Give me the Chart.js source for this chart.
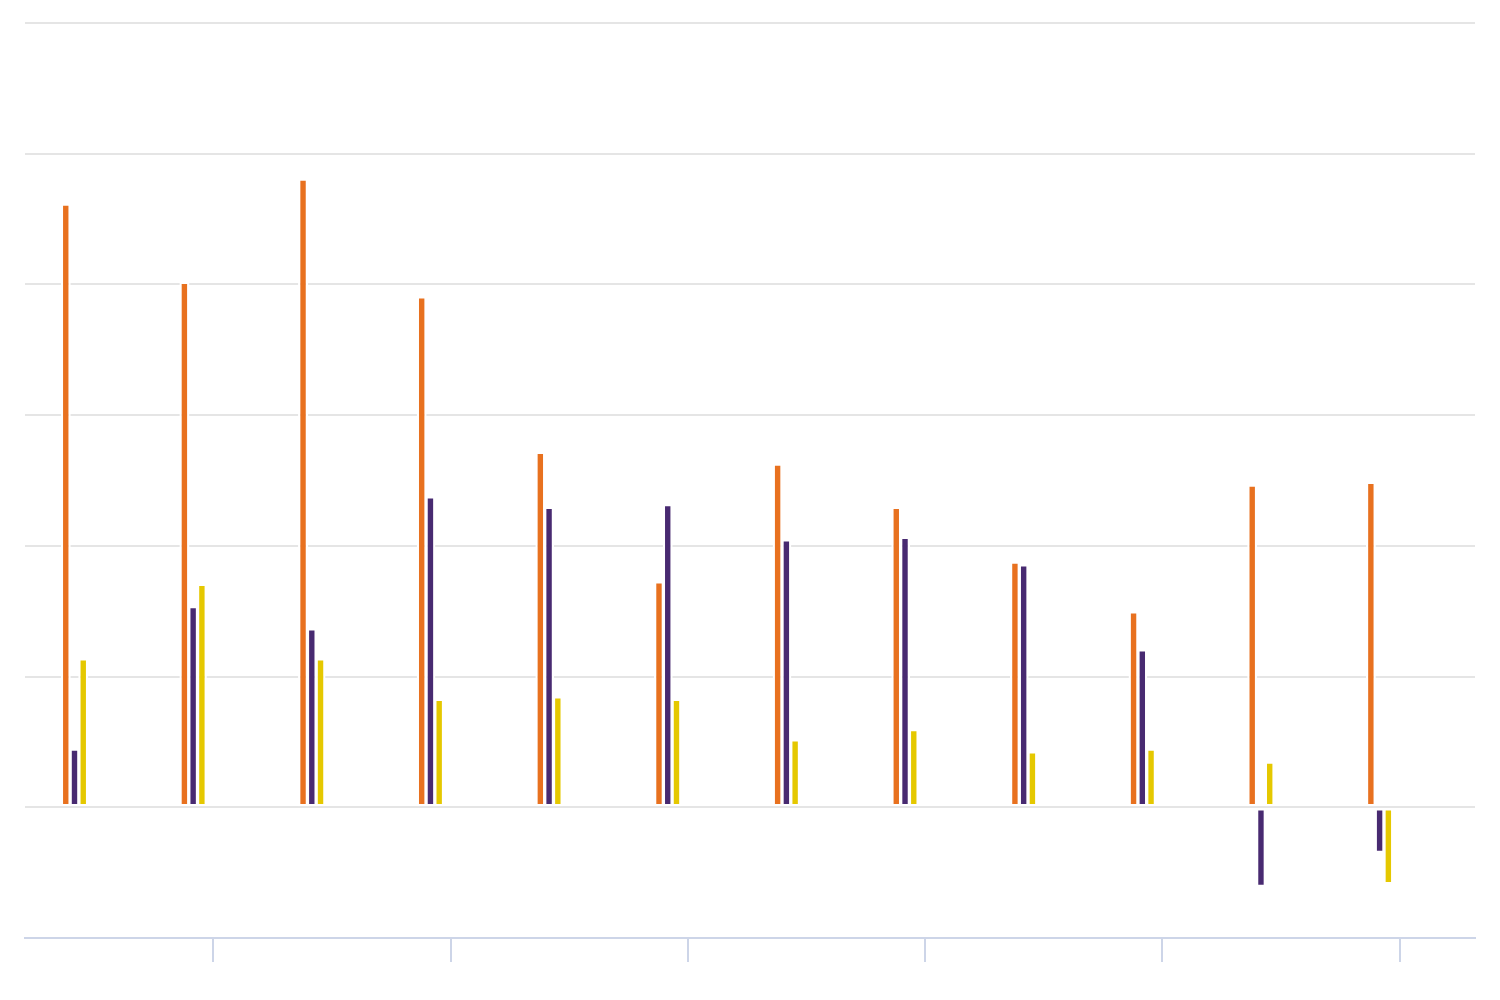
<!DOCTYPE html>
<html>
<head>
<meta charset="utf-8">
<title>Grouped bars</title>
<script src="https://cdn.jsdelivr.net/npm/chart.js@4.4.1/dist/chart.umd.min.js"></script>
<style>
  html, body { margin: 0; padding: 0; background: #ffffff; }
  #wrap { width: 1500px; height: 1000px; position: relative; }
</style>
</head>
<body>
<div id="wrap"><canvas id="chart"></canvas></div>
<script>
// data, one value per group
const categories = ['1', '2', '3', '4', '5', '6', '7', '8', '9', '10', '11', '12'];
const seriesOrange = [4.62, 4.02, 4.81, 3.91, 2.72, 1.73, 2.63, 2.30, 1.88, 1.50, 2.47, 2.49];
const seriesPurple = [0.45, 1.54, 1.37, 2.38, 2.30, 2.32, 2.05, 2.07, 1.86, 1.21, -0.61, -0.35];
const seriesYellow = [1.14, 1.71, 1.14, 0.83, 0.85, 0.83, 0.52, 0.60, 0.43, 0.45, 0.35, -0.59];

// x axis tick marks (no labels shown), in group units
const xTicks = [1.17, 3.17, 5.17, 7.17, 9.17, 11.17];

const gridColor = '#e5e5e5';
const axisColor = '#cdd5e8';

function toPoints(values) {
    return values.map((v, i) => ({ x: i, y: v }));
}

function barSet(label, values, color) {
    return {
        label: label,
        data: toPoints(values),
        backgroundColor: color,
        borderColor: '#ffffff',
        borderWidth: 2.3,
        borderSkipped: false,
        categoryPercentage: 0.2212,
        barPercentage: 1.143
    };
}

const ctx = document.getElementById('chart').getContext('2d');

new Chart(ctx, {
    type: 'bar',
    data: {
        labels: categories,
        datasets: [
            barSet('Orange', seriesOrange, '#e8711f'),
            barSet('Purple', seriesPurple, '#482a71'),
            barSet('Yellow', seriesYellow, '#e5c800')
        ]
    },
    options: {
        responsive: true,
        maintainAspectRatio: false,
        animation: false,
        layout: { padding: { left: 25, right: 25, top: 23, bottom: 38 } },
        plugins: {
            legend: { display: false },
            tooltip: { enabled: false }
        },
        scales: {
            x: {
                type: 'linear',
                min: -0.4172,
                max: 11.804,
                offset: false,
                afterBuildTicks: (scale) => {
                    scale.ticks = xTicks.map(v => ({ value: v }));
                },
                ticks: { display: false },
                grid: {
                    offset: false,
                    drawOnChartArea: false,
                    drawTicks: true,
                    tickLength: 24,
                    color: axisColor,
                    lineWidth: 2
                },
                border: { display: true, color: axisColor, width: 2, z: 1 }
            },
            y: {
                min: -1,
                max: 6,
                ticks: { display: false, stepSize: 1 },
                grid: {
                    drawTicks: false,
                    color: gridColor,
                    lineWidth: 2
                },
                border: { display: false }
            }
        }
    }
});
</script>
</body>
</html>
